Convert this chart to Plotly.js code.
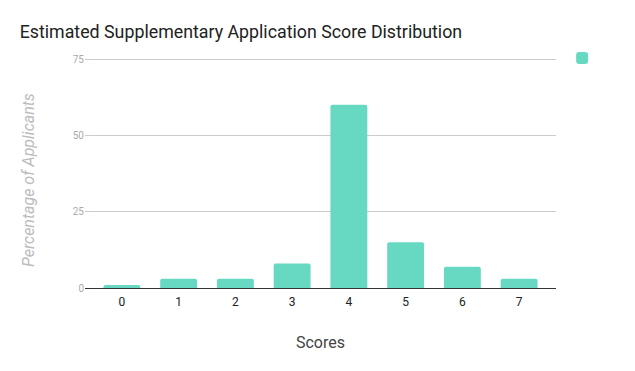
<!DOCTYPE html>
<html>
<head>
<script src="https://cdn.plot.ly/plotly-3.0.1.min.js"></script>
<style>html,body{margin:0;padding:0;background:#fff;}</style>
</head>
<body>
<div id="chart" style="width:635px;height:371px;"></div>
<script>
const scores = ["0", "1", "2", "3", "4", "5", "6", "7"];
const percentages = [1, 3, 3, 8, 60, 15, 7, 3];
const yTicks = [0, 25, 50, 75];

const trace = {
  type: "bar",
  x: scores,
  y: percentages,
  name: " ",
  marker: { color: "#67d9c3", cornerradius: 2 },
  showlegend: true,
  hoverinfo: "x+y"
};

const layout = {
  width: 635,
  height: 371,
  margin: { l: 85, r: 79, t: 58, b: 83 },
  paper_bgcolor: "#ffffff",
  plot_bgcolor: "#ffffff",
  font: { family: "Roboto, sans-serif", color: "#222" },
  title: {
    text: "Estimated Supplementary Application Score Distribution",
    font: { family: "Roboto, sans-serif", size: 17.8, color: "#222" },
    x: 0.031, xanchor: "left", y: 0.915, yanchor: "middle"
  },
  bargap: 0.35,
  xaxis: {
    type: "category",
    range: [-0.65, 7.65],
    tickfont: { size: 12, color: "#222" },
    ticklabelstandoff: 3,
    showgrid: false,
    showline: true,
    linecolor: "#333",
    linewidth: 1,
    ticks: "",
    title: { text: "Scores", font: { size: 16, color: "#444" }, standoff: 28 }
  },
  yaxis: {
    range: [0, 75.35],
    tickvals: yTicks,
    ticktext: yTicks.map(String),
    tickfont: { size: 10, color: "#aaa" },
    gridcolor: "#cccccc",
    zeroline: true,
    zerolinecolor: "#333",
    zerolinewidth: 1,
    ticks: ""
  },
  annotations: [{
    text: "<i>Percentage of Applicants</i>",
    xref: "paper", yref: "paper",
    x: 0, y: 0.5, xanchor: "center", yanchor: "middle",
    xshift: -57, yshift: -7,
    textangle: -90, showarrow: false,
    font: { family: "Roboto, sans-serif", size: 16, color: "#bbb" }
  }],
  legend: {
    x: 1.013, xanchor: "left", y: 1.0, yanchor: "middle",
    font: { size: 12 },
    bgcolor: "rgba(0,0,0,0)"
  }
};

Plotly.newPlot("chart", [trace], layout, { displayModeBar: false, staticPlot: true });
</script>
</body>
</html>
